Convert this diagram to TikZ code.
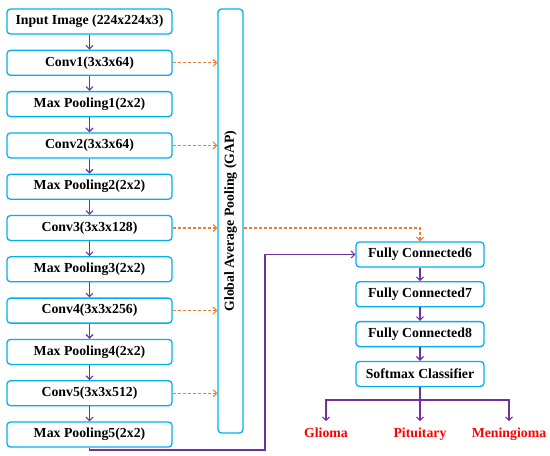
\documentclass[tikz,border=0pt]{standalone}
\usepackage{fontspec}
\setmainfont{Liberation Serif}
\usetikzlibrary{positioning,arrows.meta}

\definecolor{boxcyan}{RGB}{0,176,240}
\definecolor{linepurple}{RGB}{112,48,160}
\definecolor{lineorange}{RGB}{237,125,49}
\definecolor{labelred}{RGB}{255,0,0}

\tikzset{
	layer/.style={draw=boxcyan, line width=1.3pt, rounded corners=3.5pt, inner sep=0pt,
		minimum height=25pt, font=\fontsize{13.8}{15}\selectfont\bfseries},
	convbox/.style={layer, minimum width=165pt},
	fcbox/.style={layer, minimum width=128pt},
	flow/.style={draw=linepurple, line width=1.1pt, -{Straight Barb[length=3.5pt,width=7pt]}},
	feed/.style={draw=lineorange, line width=1.1pt, dash pattern=on 3pt off 2pt, -{Straight Barb[length=3.5pt,width=7pt]}},
	classlabel/.style={text=labelred, font=\fontsize{13.8}{15}\selectfont\bfseries, inner xsep=0pt, inner ysep=6pt}
}

\begin{document}
\begin{tikzpicture}[x=1pt, y=-1pt, node distance=15pt]
		\useasboundingbox (0,0) rectangle (550,456);
		% feature extractor
		\node[convbox] (input) at (89.5,21.5) {Input Image (224x224x3)};
		\node[convbox, below=of input] (conv1) {Conv1(3x3x64)};
		\node[convbox, below=of conv1] (pool1) {Max Pooling1(2x2)};
		\node[convbox, below=of pool1] (conv2) {Conv2(3x3x64)};
		\node[convbox, below=of conv2] (pool2) {Max Pooling2(2x2)};
		\node[convbox, below=of pool2] (conv3) {Conv3(3x3x128)};
		\node[convbox, below=of conv3] (pool3) {Max Pooling3(2x2)};
		\node[convbox, below=of pool3] (conv4) {Conv4(3x3x256)};
		\node[convbox, below=of conv4] (pool4) {Max Pooling4(2x2)};
		\node[convbox, below=of pool4] (conv5) {Conv5(3x3x512)};
		\node[convbox, below=of conv5] (pool5) {Max Pooling5(2x2)};
		\draw[flow] (input) -- (conv1);
		\draw[flow] (conv1) -- (pool1);
		\draw[flow] (pool1) -- (conv2);
		\draw[flow] (conv2) -- (pool2);
		\draw[flow] (pool2) -- (conv3);
		\draw[flow] (conv3) -- (pool3);
		\draw[flow] (pool3) -- (conv4);
		\draw[flow] (conv4) -- (pool4);
		\draw[flow] (pool4) -- (conv5);
		\draw[flow] (conv5) -- (pool5);
		% GAP column
		\node[layer, rotate=90, minimum width=424pt] (gap) at (230.5,221) {Global Average Pooling (GAP)};
		\draw[feed] (conv1.east) -- (conv1.east -| gap.north);
		\draw[feed] (conv2.east) -- (conv2.east -| gap.north);
		\draw[feed] (conv3.east) -- (conv3.east -| gap.north);
		\draw[feed] (conv4.east) -- (conv4.east -| gap.north);
		\draw[feed] (conv5.east) -- (conv5.east -| gap.north);
		% classifier head
		\node[fcbox] (fc6) at (420,254.5) {Fully Connected6};
		\node[fcbox, below=13.5pt of fc6] (fc7) {Fully Connected7};
		\node[fcbox, below=13.5pt of fc7] (fc8) {Fully Connected8};
		\node[fcbox, below=13.5pt of fc8] (soft) {Softmax Classifier};
		\draw[feed] (conv3.east -| gap.south) -| (fc6.north);
		\coordinate (bend) at (265,450);
		\draw[flow] (pool5.south) |- (bend) |- (fc6.west);
		\draw[flow] (fc6) -- (fc7);
		\draw[flow] (fc7) -- (fc8);
		\draw[flow] (fc8) -- (soft);
		% outputs
		\node[classlabel, anchor=base] (glioma) at (326,437) {Glioma};
		\node[classlabel, anchor=base] (pituitary) at (420,437) {Pituitary};
		\node[classlabel, anchor=base] (mening) at (509,437) {Meningioma};
		\coordinate (split) at (420,400);
		\draw[draw=linepurple, line width=1.1pt] (soft.south) -- (split);
		\draw[flow] (split) -| (glioma.north);
		\draw[flow] (split) -- (pituitary.north);
		\draw[flow] (split) -| (mening.north);
\end{tikzpicture}
\end{document}
